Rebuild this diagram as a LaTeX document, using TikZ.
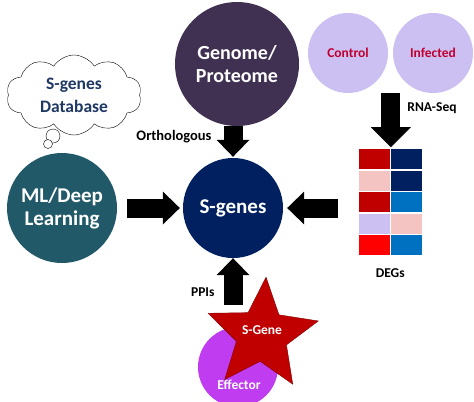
\documentclass[tikz,border=0pt]{standalone}
\usepackage{fontspec}
\setmainfont{Carlito}
\usetikzlibrary{positioning, shapes.geometric, shapes.symbols, arrows.meta}

\definecolor{sgnavy}{HTML}{002060}
\definecolor{mlteal}{HTML}{215968}
\definecolor{gppurple}{HTML}{403152}
\definecolor{lavender}{HTML}{CCC0F2}
\definecolor{samplered}{HTML}{C00030}
\definecolor{dbblue}{HTML}{1F3864}
\definecolor{effpurple}{HTML}{C03CF0}
\definecolor{starred}{HTML}{C00000}
\definecolor{stardark}{HTML}{800000}
\definecolor{hred}{HTML}{C00000}
\definecolor{hnavy}{HTML}{002060}
\definecolor{hpink}{HTML}{F4C4C2}
\definecolor{hblue}{HTML}{0070C0}
\definecolor{hlav}{HTML}{CCC0F2}
\definecolor{hbright}{HTML}{FF0000}

\begin{document}
\begin{tikzpicture}[x=1bp, y=-1bp, node distance=85bp, on grid,
  hub/.style={circle, inner sep=0pt, text=white, align=center},
  sample/.style={circle, fill=lavender, minimum size=80bp, inner sep=0pt, text=samplered, font=\bfseries\fontsize{13.5bp}{16bp}\selectfont},
  cell/.style={rectangle, minimum width=31bp, minimum height=20bp, inner sep=0pt},
  bigarrow/.style={line width=19bp, -{Triangle[length=17bp, width=33bp, line width=0pt]}},
  lbl/.style={font=\bfseries\fontsize{13.5bp}{16bp}\selectfont}]
  \useasboundingbox (0,0) rectangle (474,401);
  % circles
  \node[hub, fill=sgnavy, minimum size=100bp, font=\bfseries\fontsize{21bp}{24bp}\selectfont] (sgenes) at (233,208) {S-genes};
  \node[hub, fill=mlteal, minimum size=110bp, font=\bfseries\fontsize{21bp}{23bp}\selectfont] (ml) at (62,208) {ML/Deep\\Learning};
  \node[hub, fill=gppurple, minimum size=124bp, font=\bfseries\fontsize{20bp}{23bp}\selectfont] (genome) at (237,64) {Genome/\\Proteome};
  \node[sample] (control) at (348,53) {Control};
  \node[sample] (infected) [right=of control] {Infected};
  % database cloud
  \node[cloud, draw, fill=white, cloud puffs=10, cloud puff arc=115, aspect=1.7, minimum width=135bp, minimum height=80bp, inner sep=0pt, text=dbblue, align=center, font=\bfseries\fontsize{17.5bp}{23bp}\selectfont] (db) at (74,95) {S-genes\\Database};
  \node[circle, draw, fill=white, minimum size=14bp, inner sep=0pt] (bub1) at (53,136) {};
  \node[circle, draw, fill=white, minimum size=9bp, inner sep=0pt] (bub2) at (48,144) {};
  % heatmap
  \foreach \l/\r [count=\i] in {hred/hnavy, hpink/hnavy, hred/hblue, hlav/hpink, hbright/hblue} {
    \node[cell, fill=\l] (hl\i) at (374.5,138+21.4*\i) {};
    \node[cell, fill=\r] (hr\i) [right=32bp of hl\i] {};
  }
  \node[lbl] (degs) [below=10bp of hl5.south east] {DEGs};
  % arrows
  \draw[bigarrow, shorten >=1bp] (sgenes.north |- genome.south) -- (sgenes.north);
  \draw[bigarrow, shorten <=10bp, shorten >=3bp] (ml.east) -- (sgenes.west);
  \draw[bigarrow, shorten <=21bp, shorten >=4bp] (hl3.west |- sgenes) -- (sgenes.east);
  \draw[bigarrow, -{Triangle[length=20bp, width=40bp, line width=0pt]}, shorten >=2bp] (control.south -| hr1.north west) -- (hr1.north west);
  \coordinate (ppi) at (233,305);
  \draw[bigarrow] (ppi) -- (sgenes.south);
  % labels
  \node[lbl, anchor=east, font=\bfseries\fontsize{14.5bp}{17bp}\selectfont] (ortho) at (215,137) {Orthologous};
  \node[lbl] (rnaseq) at (432,108) {RNA-Seq};
  \node[lbl, anchor=east] (ppis) at (218,292) {PPIs};
  % effector and star
  \node[circle, fill=effpurple, minimum size=80bp, inner sep=0pt] (effector) at (238,367) {};
  \node[star, star points=5, star point ratio=2.2, minimum size=116bp, inner sep=0pt, fill=starred, draw=stardark, rotate=-4] (sgene) at (262,335) {};
  \node[lbl, text=white] (sgenelbl) at (262,330) {S-Gene};
  \node[lbl, text=white] (efflbl) at (239,385) {Effector};
\end{tikzpicture}
\end{document}
